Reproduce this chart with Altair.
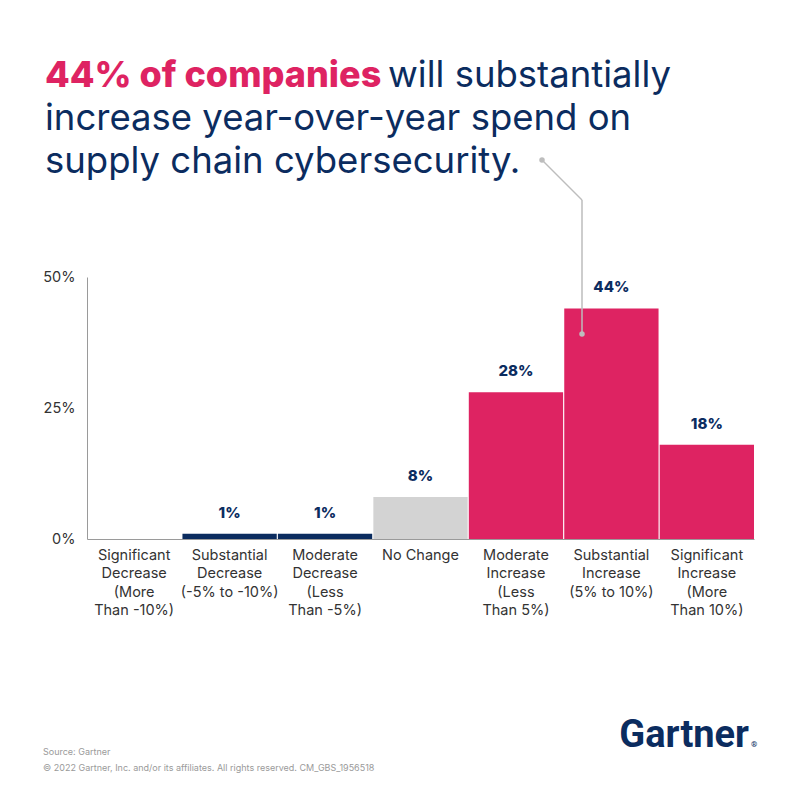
import altair as alt
import pandas as pd

# ---- data ----
categories = [
    "Significant|Decrease|(More|Than -10%)",
    "Substantial|Decrease|(-5% to -10%)",
    "Moderate|Decrease|(Less|Than -5%)",
    "No Change",
    "Moderate|Increase|(Less|Than 5%)",
    "Substantial|Increase|(5% to 10%)",
    "Significant|Increase|(More|Than 10%)",
]
values = [0, 1, 1, 8, 28, 44, 18]
labels = ["", "1%", "1%", "8%", "28%", "44%", "18%"]
groups = ["decrease", "decrease", "decrease", "none", "increase", "increase", "increase"]

group_colors = {"decrease": "#0B2C5F", "none": "#D3D3D3", "increase": "#DE2362"}

title_highlight = ["44% of companies"]
title_rest = ["will substantially"]
title_lines = ["increase year-over-year spend on", "supply chain cybersecurity."]
source_lines = ["Source: Gartner",
                "\u00a9 2022 Gartner, Inc. and/or its affiliates. All rights reserved. CM_GBS_1956518"]
logo_text = ["Gartner"]

NAVY = "#0B2C5F"
PINK = "#DE2362"
FONT = "Inter"

df = pd.DataFrame({
    "cat": categories,
    "value": values,
    "label": labels,
    "color": [group_colors[g] for g in groups],
})

x_enc = alt.X(
    "cat:N", sort=categories, title=None,
    scale=alt.Scale(paddingInner=0.012, paddingOuter=0),
    axis=alt.Axis(labelAngle=0, labelExpr="split(datum.value, '|')",
                  labelFontSize=14.5, labelLineHeight=18.5, labelColor="#333333",
                  labelFont=FONT, labelPadding=9, labelBaseline="top",
                  labelLimit=300, ticks=False, domainColor="#9A9A9A", domainWidth=1),
)
y_enc = alt.Y(
    "value:Q", title=None,
    scale=alt.Scale(domain=[0, 50], nice=False),
    axis=alt.Axis(values=[0, 25, 50], labelExpr="datum.value + '%'", grid=False,
                  ticks=False, domainColor="#9A9A9A", domainWidth=1,
                  labelFontSize=14.5, labelColor="#333333", labelFont=FONT,
                  labelPadding=12),
)

base = alt.Chart(df)
bars = base.mark_bar().encode(x=x_enc, y=y_enc, color=alt.Color("color:N", scale=None))
bar_labels = base.mark_text(
    font=FONT, fontWeight=800, fontSize=15, color=NAVY, baseline="bottom", dy=-13
).encode(x=alt.X("cat:N", sort=categories), y="value:Q", text="label:N")

# ---- title ----
def txt(lines, x, y, size, color, weight="normal", align="left", font=FONT):
    d = pd.DataFrame({"t": lines})
    return alt.Chart(d).mark_text(
        font=font, fontSize=size, color=color, fontWeight=weight,
        align=align, baseline="alphabetic"
    ).encode(x=alt.value(x), y=alt.value(y), text="t:N")

t1 = txt(title_highlight, -42, -190, 36, PINK, weight=800)
t2 = txt(title_rest, 301, -190, 36.5, NAVY)
t3 = txt([title_lines[0]], -42, -147, 36.5, NAVY)
t4 = txt([title_lines[1]], -42, -104, 36.5, NAVY)

src1 = txt([source_lines[0]], -44, 478, 9, "#9A9A9A")
src2 = txt([source_lines[1]], -44, 494, 9, "#9A9A9A")
logo = txt(logo_text, 662, 470, 38, NAVY, weight="bold", align="right", font="Roboto")
reg = txt(["\u00ae"], 664, 470, 8, NAVY, weight="bold", align="left", font="Roboto")

# ---- annotation leader ----
ANN = "#BDBDBD"
one = pd.DataFrame({"a": [0]})
diag = alt.Chart(one).mark_rule(color=ANN, strokeWidth=1.5).encode(
    x=alt.value(455), y=alt.value(-117), x2=alt.value(495), y2=alt.value(-77))
vert = alt.Chart(one).mark_rule(color=ANN, strokeWidth=1.5).encode(
    x=alt.value(495), y=alt.value(-77), x2=alt.value(495), y2=alt.value(57))
dot1 = alt.Chart(one).mark_point(filled=True, color=ANN, size=30, opacity=1).encode(
    x=alt.value(455), y=alt.value(-117))
dot2 = alt.Chart(one).mark_point(filled=True, color=ANN, size=30, opacity=1).encode(
    x=alt.value(495), y=alt.value(57))

chart = alt.layer(
    bars, bar_labels, diag, vert, dot1, dot2, t1, t2, t3, t4, src1, src2, logo, reg
).properties(
    width=667, height=262,
    autosize=alt.AutoSizeParams(type="none"),
    padding={"left": 79, "top": 269, "right": 38, "bottom": 253},
    background="white",
).configure_view(stroke=None)

chart.save("out.html", embed_options={"renderer": "svg", "actions": False})
